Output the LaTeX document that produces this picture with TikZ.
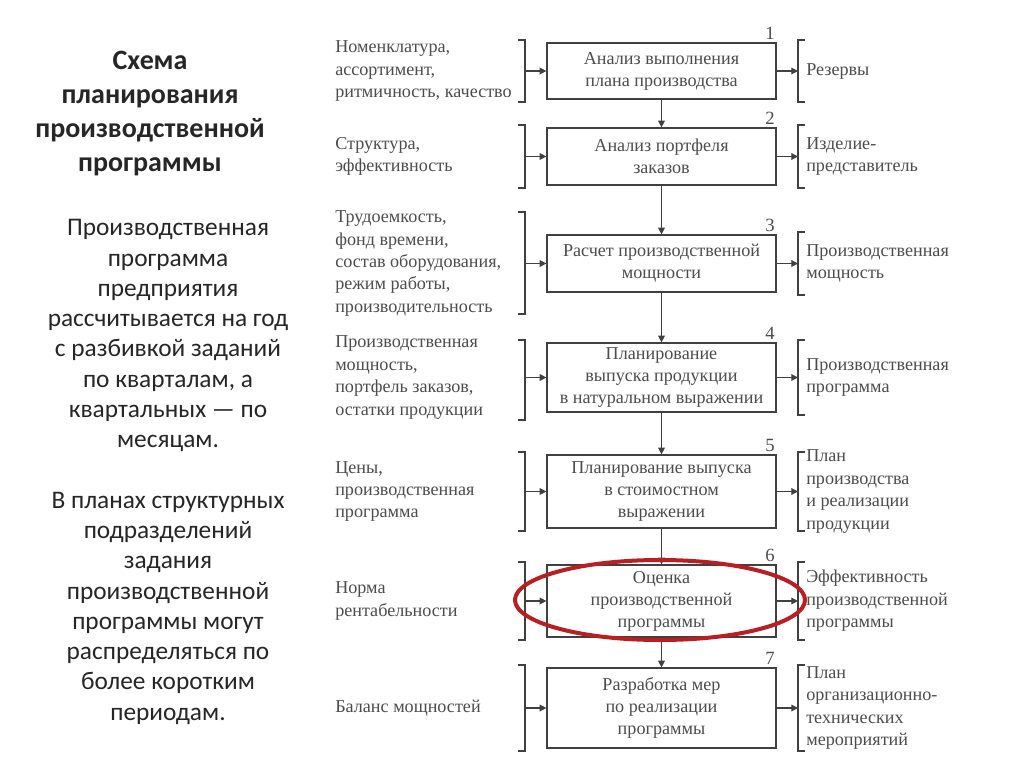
\documentclass[tikz,border=0pt]{standalone}
\usepackage{fontspec}
\setmainfont{Liberation Serif}
\newfontfamily\leftfont{Carlito}
\usetikzlibrary{arrows.meta,shapes.geometric}
\definecolor{txt}{gray}{0.3}
\tikzset{
 bx/.style={draw=black!75,line width=0.9pt,fill=white,minimum width=229*0.75pt,align=center,font=\fontsize{13.6}{16.5}\selectfont,text=txt,inner sep=0pt},
 side/.style={anchor=west,align=left,font=\fontsize{13.6}{16.8}\selectfont,text=txt,inner sep=0pt},
 ln/.style={draw=black!75,line width=0.9pt},
 arr/.style={ln,-{Triangle[length=5pt,width=5pt]}},
 num/.style={font=\fontsize{14}{16}\selectfont,text=txt}
}
% #1 top #2 bottom #3 num #4 box #5 left #6 right #7 ltop #8 lbot
\newcommand\diagrow[8]{%
 \node[bx,minimum height={(#2-#1)*0.75pt}] (b#3) at (661.5,{(#1+#2)/2}) {#4};
 \node[num] (n#3) at (770,{#1-10}) {#3};
 \node[side] (l#3) at (335,{(#1+#2)/2}) {#5};
 \node[side] (r#3) at (806,{(#1+#2)/2}) {#6};
 \draw[ln] (518,#7) -- (525,#7) -- (525,#8) -- (518,#8);
 \coordinate (lc#3) at (525,{(#1+#2)/2});
 \draw[arr] (lc#3) -- (b#3.west);
 \draw[ln] (805,{#1-3}) -- (798,{#1-3}) -- (798,{#2+3}) -- (805,{#2+3});
 \coordinate (rc#3) at (798,{(#1+#2)/2});
 \draw[arr] (b#3.east) -- (rc#3);
}
\begin{document}
\begin{tikzpicture}[x=0.75pt,y=-0.75pt]
\useasboundingbox[fill=white] (0,0) rectangle (1024,767);
\node[font=\leftfont\bfseries\fontsize{21}{25.5}\selectfont,align=center,text=black!85] (title) at (150,114) {Схема\\планирования\\производственной\\программы};
\node[font=\leftfont\fontsize{19}{22.7}\selectfont,align=center,text=black!85] (para) at (168,472) {Производственная\\программа\\предприятия\\рассчитывается на год\\с разбивкой заданий\\по кварталам, а\\квартальных — по\\месяцам.\\[22.7pt]В планах структурных\\подразделений\\задания\\производственной\\программы могут\\распределяться по\\более коротким\\периодам.};
\diagrow{43}{99}{1}{Анализ выполнения\\плана производства}{Номенклатура,\\ассортимент,\\ритмичность, качество}{Резервы}{40}{102}
\diagrow{128}{185}{2}{Анализ портфеля\\заказов}{Структура,\\эффективность}{Изделие-\\представитель}{125}{188}
\diagrow{235}{292}{3}{Расчет производственной\\мощности}{Трудоемкость,\\фонд времени,\\состав оборудования,\\режим работы,\\производительность}{Производственная\\мощность}{212}{314}
\diagrow{343}{412}{4}{Планирование\\выпуска продукции\\в натуральном выражении}{Производственная\\мощность,\\портфель заказов,\\остатки продукции}{Производственная\\программа}{340}{420}
\diagrow{455}{528}{5}{Планирование выпуска\\в стоимостном\\выражении}{Цены,\\производственная\\программа}{План\\производства\\и реализации\\продукции}{452}{531}
\diagrow{565}{637}{6}{Оценка\\производственной\\программы}{Норма\\рентабельности}{Эффективность\\производственной\\программы}{562}{640}
\diagrow{668}{748}{7}{Разработка мер\\по реализации\\программы}{Баланс мощностей}{План\\организационно-\\технических\\мероприятий}{665}{751}
\foreach \a/\b in {1/2,2/3,3/4,4/5,5/6,6/7} \draw[arr] (b\a.south) -- (b\b.north);
\node[draw={rgb,255:red,185;green,30;blue,35},line width=3pt,ellipse,minimum width=290*0.75pt,minimum height=80*0.75pt] (ell) at (660,600) {};
\end{tikzpicture}
\end{document}
